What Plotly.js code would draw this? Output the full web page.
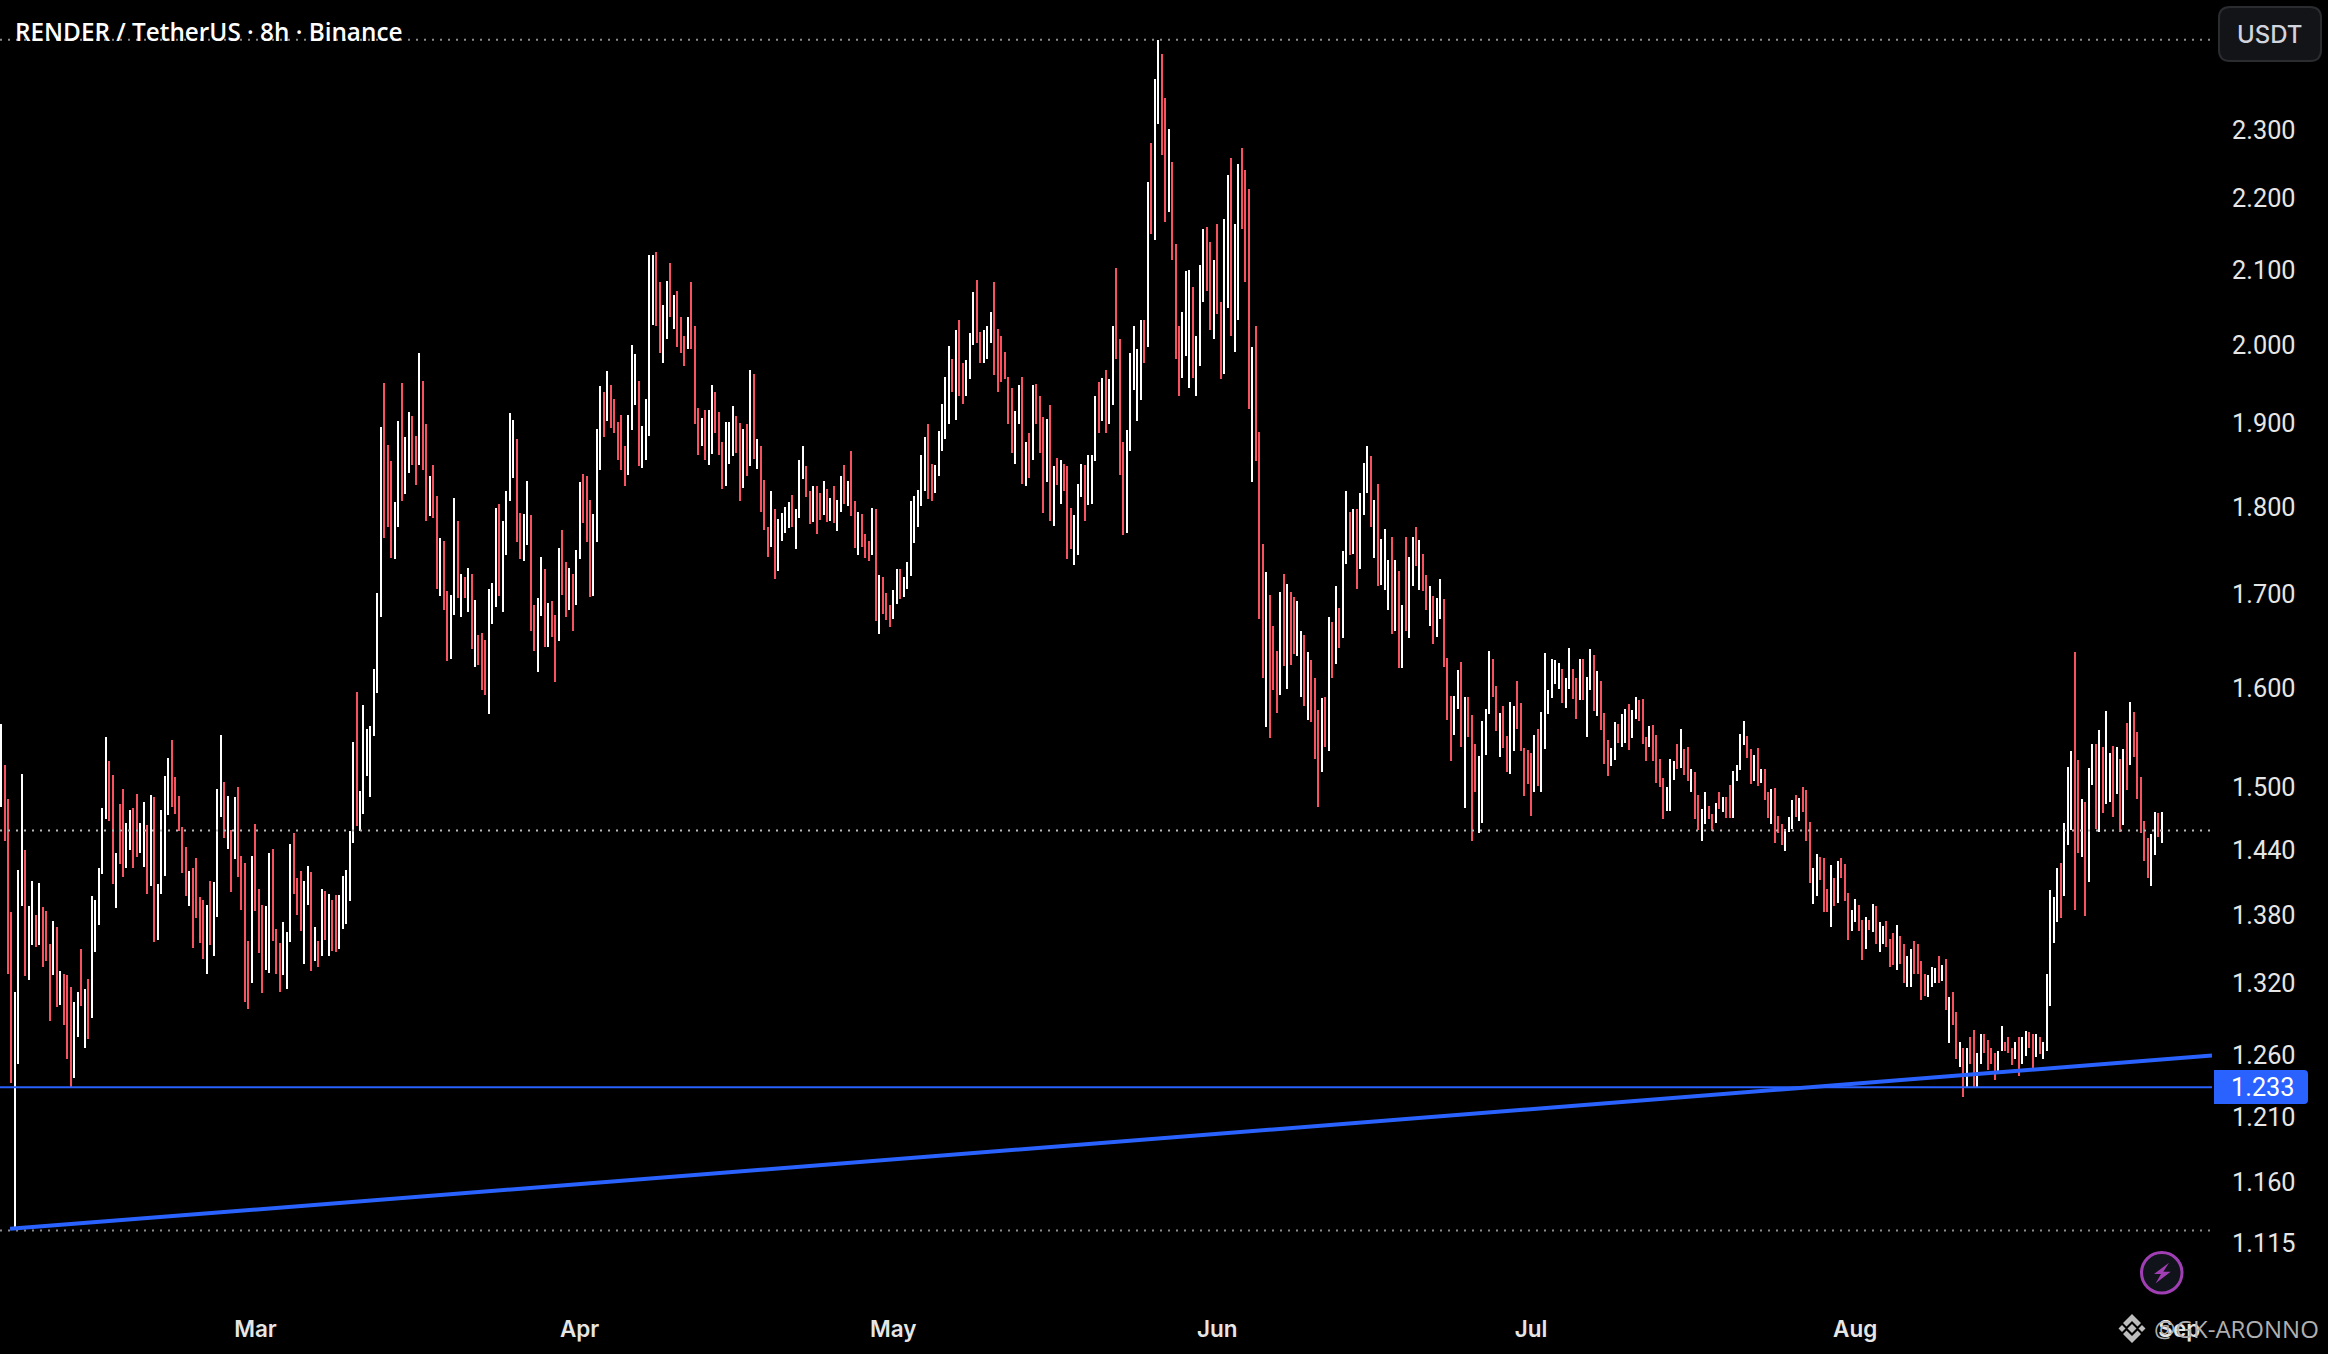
<!DOCTYPE html>
<html>
<head>
<meta charset="utf-8">
<script src="https://cdn.plot.ly/plotly-3.0.1.min.js"></script>
<style>html,body{margin:0;padding:0;background:#000;}#chart{width:2328px;height:1354px;}</style>
</head>
<body>
<div id="chart"></div>
<script>
const highs = [
1.563,1.522,1.488,1.383,1.313,1.421,1.513,1.440,1.388,1.411,
1.380,1.409,1.387,1.384,1.354,1.375,1.369,1.331,1.328,1.327,
1.317,1.304,1.313,1.350,1.315,1.324,1.397,1.394,1.423,1.480,
1.550,1.526,1.512,1.437,1.483,1.498,1.465,1.478,1.480,1.493,
1.465,1.485,1.463,1.492,1.490,1.408,1.478,1.511,1.529,1.547,
1.510,1.491,1.461,1.443,1.420,1.423,1.432,1.396,1.394,1.389,
1.411,1.410,1.498,1.552,1.505,1.491,1.459,1.490,1.500,1.434,
1.428,1.357,1.434,1.464,1.404,1.389,1.388,1.437,1.441,1.368,
1.355,1.374,1.365,1.445,1.456,1.414,1.420,1.411,1.425,1.419,
1.369,1.357,1.404,1.402,1.399,1.394,1.398,1.398,1.416,1.421,
1.458,1.545,1.596,1.496,1.582,1.558,1.561,1.620,1.702,1.896,
1.951,1.874,1.854,1.806,1.903,1.951,1.884,1.914,1.909,1.885,
1.990,1.953,1.900,1.836,1.850,1.813,1.764,1.760,1.704,1.700,
1.810,1.783,1.723,1.720,1.730,1.723,1.694,1.656,1.658,1.651,
1.706,1.713,1.798,1.803,1.783,1.818,1.913,1.905,1.881,1.793,
1.791,1.830,1.790,1.689,1.696,1.742,1.729,1.691,1.693,1.678,
1.752,1.773,1.737,1.730,1.723,1.750,1.829,1.839,1.836,1.808,
1.791,1.894,1.947,1.939,1.966,1.949,1.931,1.902,1.911,1.873,
1.911,2.000,1.988,1.954,1.897,1.931,2.121,2.120,2.124,2.084,
2.052,2.085,2.109,2.066,2.071,2.037,2.012,2.037,2.084,2.024,
1.919,1.907,1.917,1.917,1.949,1.940,1.914,1.878,1.902,1.902,
1.922,1.909,1.901,1.894,1.900,1.967,1.963,1.881,1.873,1.832,
1.777,1.818,1.797,1.786,1.793,1.800,1.805,1.814,1.797,1.856,
1.873,1.848,1.818,1.825,1.824,1.816,1.830,1.821,1.810,1.824,
1.808,1.836,1.849,1.831,1.867,1.807,1.794,1.791,1.768,1.760,
1.798,1.797,1.722,1.720,1.702,1.688,1.705,1.728,1.728,1.720,
1.737,1.807,1.813,1.820,1.862,1.883,1.900,1.851,1.849,1.891,
1.924,1.958,1.998,1.981,2.020,2.032,1.977,1.980,2.015,2.070,
2.086,2.017,2.019,2.024,2.043,2.084,2.021,2.011,1.991,1.959,
1.944,1.916,1.949,1.958,1.877,1.888,1.948,1.950,1.935,1.908,
1.906,1.923,1.848,1.858,1.855,1.851,1.848,1.799,1.790,1.827,
1.851,1.849,1.862,1.862,1.934,1.952,1.957,1.967,1.956,2.025,
2.103,2.007,1.877,1.892,1.989,2.025,1.994,2.032,2.032,2.223,
2.280,2.378,2.439,2.417,2.348,2.302,2.253,2.136,2.024,2.043,
2.099,2.100,2.077,2.011,2.106,2.156,2.159,2.138,2.114,2.164,
2.056,2.170,2.234,2.258,2.164,2.249,2.273,2.241,2.213,1.997,
2.025,1.890,1.757,1.725,1.700,1.666,1.639,1.703,1.723,1.712,
1.703,1.697,1.693,1.660,1.656,1.638,1.629,1.610,1.577,1.589,
1.590,1.675,1.670,1.710,1.685,1.749,1.819,1.794,1.797,1.797,
1.816,1.852,1.872,1.860,1.808,1.827,1.763,1.774,1.739,1.765,
1.739,1.726,1.689,1.765,1.742,1.765,1.776,1.762,1.745,1.722,
1.710,1.698,1.696,1.717,1.695,1.631,1.591,1.591,1.619,1.627,
1.590,1.590,1.572,1.543,1.531,1.566,1.578,1.639,1.630,1.602,
1.574,1.581,1.551,1.585,1.581,1.607,1.584,1.539,1.537,1.534,
1.552,1.558,1.575,1.637,1.598,1.630,1.629,1.626,1.620,1.610,
1.642,1.620,1.610,1.630,1.630,1.611,1.641,1.635,1.618,1.607,
1.574,1.547,1.539,1.565,1.563,1.573,1.578,1.583,1.577,1.590,
1.587,1.588,1.550,1.561,1.562,1.552,1.528,1.509,1.500,1.528,
1.526,1.543,1.558,1.538,1.540,1.518,1.515,1.492,1.479,1.495,
1.482,1.474,1.484,1.495,1.490,1.490,1.502,1.516,1.522,1.553,
1.566,1.551,1.538,1.532,1.539,1.518,1.518,1.495,1.498,1.499,
1.472,1.464,1.460,1.471,1.487,1.492,1.489,1.500,1.497,1.466,
1.423,1.436,1.433,1.432,1.404,1.426,1.414,1.429,1.432,1.427,
1.400,1.385,1.395,1.389,1.376,1.378,1.376,1.390,1.388,1.374,
1.370,1.375,1.359,1.364,1.371,1.361,1.354,1.344,1.350,1.357,
1.354,1.339,1.328,1.327,1.334,1.333,1.344,1.336,1.341,1.308,
1.313,1.296,1.271,1.266,1.266,1.275,1.281,1.262,1.277,1.277,
1.272,1.266,1.262,1.263,1.284,1.271,1.275,1.266,1.271,1.275,
1.275,1.280,1.279,1.277,1.277,1.275,1.271,1.328,1.403,1.396,
1.423,1.428,1.465,1.520,1.536,1.638,1.527,1.488,1.485,1.519,
1.543,1.543,1.557,1.540,1.576,1.534,1.541,1.540,1.528,1.538,
1.564,1.585,1.575,1.555,1.510,1.467,1.451,1.455,1.476,1.475,1.476
];
const lows = [
1.481,1.448,1.328,1.237,1.124,1.253,1.388,1.326,1.323,1.353,
1.352,1.353,1.334,1.339,1.288,1.327,1.300,1.302,1.285,1.257,
1.234,1.241,1.275,1.301,1.266,1.273,1.291,1.347,1.371,1.417,
1.469,1.467,1.408,1.386,1.427,1.415,1.423,1.440,1.423,1.433,
1.437,1.424,1.399,1.406,1.356,1.358,1.399,1.416,1.473,1.481,
1.474,1.458,1.418,1.397,1.388,1.351,1.377,1.355,1.341,1.328,
1.353,1.344,1.378,1.471,1.451,1.441,1.401,1.431,1.415,1.385,
1.304,1.298,1.320,1.384,1.346,1.312,1.332,1.329,1.357,1.328,
1.313,1.327,1.315,1.356,1.399,1.380,1.366,1.337,1.389,1.331,
1.339,1.334,1.344,1.358,1.344,1.348,1.347,1.350,1.368,1.372,
1.393,1.446,1.462,1.458,1.474,1.511,1.490,1.551,1.595,1.675,
1.764,1.776,1.741,1.740,1.776,1.807,1.815,1.840,1.849,1.826,
1.849,1.843,1.783,1.789,1.787,1.706,1.698,1.683,1.628,1.630,
1.678,1.696,1.675,1.696,1.681,1.641,1.622,1.624,1.598,1.592,
1.573,1.668,1.686,1.698,1.681,1.744,1.807,1.834,1.759,1.740,
1.738,1.756,1.660,1.639,1.616,1.677,1.643,1.643,1.654,1.606,
1.649,1.700,1.675,1.683,1.660,1.689,1.740,1.781,1.759,1.697,
1.698,1.759,1.843,1.884,1.903,1.895,1.888,1.856,1.844,1.824,
1.837,1.892,1.923,1.848,1.846,1.855,1.885,2.026,2.024,1.990,
1.976,2.007,2.036,2.021,1.997,1.990,1.972,1.994,1.994,1.900,
1.862,1.872,1.855,1.849,1.863,1.889,1.862,1.821,1.824,1.851,
1.860,1.864,1.807,1.822,1.836,1.848,1.857,1.845,1.794,1.773,
1.742,1.754,1.717,1.726,1.760,1.770,1.775,1.776,1.751,1.787,
1.833,1.812,1.780,1.782,1.768,1.785,1.790,1.782,1.783,1.781,
1.772,1.794,1.803,1.801,1.789,1.752,1.744,1.753,1.741,1.738,
1.744,1.671,1.657,1.679,1.672,1.664,1.673,1.690,1.695,1.697,
1.706,1.721,1.758,1.776,1.801,1.818,1.809,1.807,1.816,1.836,
1.866,1.881,1.900,1.939,1.905,1.934,1.924,1.935,1.956,2.000,
2.003,1.977,1.976,1.981,2.002,1.961,1.939,1.952,1.956,1.899,
1.864,1.851,1.899,1.827,1.824,1.834,1.855,1.899,1.864,1.793,
1.829,1.783,1.778,1.826,1.803,1.818,1.740,1.751,1.733,1.744,
1.812,1.783,1.802,1.803,1.854,1.888,1.903,1.889,1.899,1.923,
1.981,1.837,1.767,1.770,1.867,1.942,1.903,1.929,1.976,1.997,
2.150,2.141,2.309,2.263,2.167,2.181,2.114,1.981,1.934,1.957,
1.986,1.945,1.957,1.934,1.972,2.056,2.071,2.019,2.008,2.040,
1.956,1.963,2.049,2.011,1.991,2.032,2.156,2.084,1.918,1.829,
1.854,1.673,1.610,1.560,1.549,1.598,1.574,1.593,1.623,1.599,
1.624,1.636,1.633,1.590,1.581,1.567,1.565,1.528,1.481,1.515,
1.540,1.536,1.610,1.625,1.642,1.653,1.734,1.744,1.746,1.706,
1.728,1.790,1.816,1.777,1.741,1.709,1.711,1.705,1.683,1.657,
1.660,1.621,1.621,1.660,1.653,1.710,1.732,1.705,1.704,1.683,
1.666,1.646,1.654,1.673,1.622,1.567,1.526,1.552,1.578,1.540,
1.480,1.550,1.448,1.495,1.456,1.465,1.532,1.573,1.590,1.556,
1.530,1.539,1.515,1.513,1.536,1.558,1.536,1.491,1.503,1.472,
1.495,1.501,1.495,1.538,1.573,1.589,1.604,1.599,1.584,1.579,
1.599,1.588,1.568,1.587,1.587,1.550,1.598,1.576,1.571,1.557,
1.523,1.511,1.521,1.527,1.544,1.540,1.544,1.537,1.549,1.568,
1.566,1.543,1.526,1.540,1.526,1.504,1.500,1.469,1.477,1.477,
1.507,1.518,1.519,1.512,1.506,1.495,1.469,1.459,1.448,1.464,
1.469,1.458,1.465,1.479,1.476,1.470,1.470,1.470,1.506,1.517,
1.542,1.529,1.503,1.506,1.501,1.504,1.487,1.470,1.464,1.446,
1.456,1.444,1.439,1.457,1.460,1.471,1.467,1.476,1.448,1.409,
1.390,1.397,1.412,1.383,1.383,1.369,1.388,1.391,1.414,1.393,
1.358,1.366,1.374,1.366,1.340,1.350,1.367,1.365,1.354,1.347,
1.354,1.352,1.334,1.336,1.332,1.337,1.320,1.317,1.317,1.328,
1.328,1.306,1.309,1.308,1.317,1.320,1.320,1.322,1.297,1.270,
1.285,1.257,1.250,1.226,1.234,1.253,1.233,1.234,1.253,1.262,
1.248,1.253,1.240,1.247,1.263,1.263,1.262,1.252,1.257,1.243,
1.253,1.259,1.266,1.248,1.258,1.261,1.257,1.263,1.301,1.355,
1.374,1.377,1.397,1.444,1.459,1.385,1.437,1.433,1.379,1.410,
1.502,1.460,1.457,1.475,1.483,1.485,1.471,1.493,1.457,1.463,
1.497,1.522,1.530,1.488,1.456,1.429,1.414,1.406,1.435,1.452,1.446
];
// W = closed up (white), R = closed down (red)
const directions = (
"WRRRWWWRWW"+"RWRRRWRWRR"+"RWWRWRWWWW"+"WRRWRRWWRR"+"WWRWRWWWWR"+
"RRRRWRRRRW"+"RWWWRWRWRR"+"RRWRRRWWRR"+"RWWWRRRWWR"+"WRWRWRRWWW"+
"WWRWWWWWWW"+"RRRWWRWWRR"+"WRRWRRWRRW"+"WRWRWRWRRR"+"WWWRWWWWRR"+
"WWRRWWRWRR"+"WRRWRWWRRR"+"WWWRWRRRRR"+"WWWRWWWWRR"+"WWRWRRRWRR"+
"RWRWWRRRWW"+"WRRWRWRWRR"+"RWRWWWWRWW"+"WRRWRRWRWR"+"WWRWRRWRRR"+
"WRWRRRWWRW"+"WWWWWWRRWW"+"WWWRWRRWWW"+"RRWWWRRRRR"+"RWWRWRWRRR"+
"WRWRWRRRWW"+"WRWWWRWRWW"+"RRRWWWWWRW"+"RWWRRWRRRW"+"WWRWWWRRWR"+
"RWWRWWRRRW"+"RRRWRRRWRW"+"RRWWRWRRRW"+"RWRWRWWRWR"+"WWWRWRWWWR"+
"WRWRWWRWRR"+"WRWWRRRWWR"+"WRRRWWWWRR"+"WRRWWRRRRR"+"WRWWWWWWRW"+
"WRRWRWWRWR"+"RRWWRWWRWW"+"RRRWRRRRWW"+"WRWRRWRRWW"+"RRWRWRRWWW"+
"WRRWRWRRWR"+"RRWWWRWRRR"+"WWRRRWRWRR"+"RWWRRWRWRW"+"WRRRWRRWWR"+
"RRRWWWRWRW"+"RRWRWRRWWR"+"RRRWWRRRWR"+"WWRRWRWWWW"+"WRWWWRRWRW"+
"WRWRWWRWRW"+"RWRRRRRWWRW"
).split("");
const priceTicks = ["2.300","2.200","2.100","2.000","1.900","1.800","1.700","1.600","1.500","1.440","1.380","1.320","1.260","1.210","1.160","1.115"];
const monthTicks = ["2026-03-01","2026-04-01","2026-05-01","2026-06-01","2026-07-01","2026-08-01","2026-09-01"];
const monthLabels = ["Mar","Apr","May","Jun","Jul","Aug","Sep"];
const highestPrice = 2.439, markPrice = 1.458, lowestPrice = 1.124, supportPrice = 1.2338;
const trendBars = [2.6, 634.4];
const trendPrices = [1.1252, 1.2595];
const firstBar = Date.UTC(2026, 1, 4, 16);
const barMs = 8 * 3600 * 1000;

const W = 2328, H = 1354, plotW = 2212, plotH = 1300;
const WHITE = "#ffffff", RED = "#f7525f", BLUE = "#2962ff";
const barTime = i => new Date(firstBar + i * barMs).toISOString();
const xEdges = [barTime(-0.29), barTime(634.4)];
const px = x => x / plotW;
const py = y => 1 - y / plotH;
const poly = pts => pts.map((p, i) => (i ? "L" : "M") + px(p[0]) + "," + py(p[1])).join(" ") + " Z";
const rrect = (x0, y0, x1, y1, rl, rr) =>
  "M" + px(x0 + rl) + "," + py(y0) + " L" + px(x1 - rr) + "," + py(y0) +
  " Q" + px(x1) + "," + py(y0) + " " + px(x1) + "," + py(y0 + rr) +
  " L" + px(x1) + "," + py(y1 - rr) + " Q" + px(x1) + "," + py(y1) + " " + px(x1 - rr) + "," + py(y1) +
  " L" + px(x0 + rl) + "," + py(y1) + " Q" + px(x0) + "," + py(y1) + " " + px(x0) + "," + py(y1 - rl) +
  " L" + px(x0) + "," + py(y0 + rl) + " Q" + px(x0) + "," + py(y0) + " " + px(x0 + rl) + "," + py(y0) + " Z";

const times = highs.map((_, i) => barTime(i));
const opens = highs.map((h, i) => directions[i] === "W" ? lows[i] : h);
const closes = highs.map((h, i) => directions[i] === "W" ? h : lows[i]);

const levelLine = (p, color) => ({
  type: "scatter", mode: "lines", x: xEdges, y: [p, p], showlegend: false, hoverinfo: "skip",
  line: { color: color, width: 2, dash: "2px,6px" }
});

const traces = [
  {
    type: "ohlc", x: times, open: opens, high: highs, low: lows, close: closes, tickwidth: 0,
    increasing: { line: { color: WHITE, width: 2 } },
    decreasing: { line: { color: RED, width: 2 } },
    showlegend: false, hoverinfo: "skip"
  },
  levelLine(highestPrice, "#8c8c8c"),
  levelLine(markPrice, "#b8b8b8"),
  levelLine(lowestPrice, "#8c8c8c"),
  { type: "scatter", mode: "lines", x: xEdges, y: [supportPrice, supportPrice], showlegend: false, hoverinfo: "skip",
    line: { color: BLUE, width: 2 } },
  { type: "scatter", mode: "lines", x: trendBars.map(barTime), y: trendPrices, showlegend: false, hoverinfo: "skip",
    line: { color: BLUE, width: 4 } }
];

const shapes = [
  { type: "path", xref: "paper", yref: "paper", path: rrect(2219, 7, 2321, 61, 11, 11), fillcolor: "#131417", line: { color: "#2a2c30", width: 2 } },
  { type: "path", xref: "paper", yref: "paper", path: rrect(2214, 1070, 2308, 1104, 0, 4), fillcolor: BLUE, line: { width: 0 } },
  { type: "circle", xref: "paper", yref: "paper", x0: px(2141.5), x1: px(2182), y0: py(1293), y1: py(1252.5), fillcolor: "#10131a", line: { color: "#a03fb4", width: 3 } },
  { type: "path", xref: "paper", yref: "paper", path: poly([[2169, 1262.7], [2154, 1274], [2161, 1274], [2155.7, 1283.3], [2170.7, 1271.7], [2163.3, 1271.7]]), fillcolor: "#a03fb4", line: { width: 0 } },
  { type: "path", xref: "paper", yref: "paper", path: poly([[2132, 1314], [2141, 1323], [2137.5, 1326.5], [2132, 1321], [2126.5, 1326.5], [2123, 1323]]), fillcolor: "#bdbdbd", line: { width: 0 } },
  { type: "path", xref: "paper", yref: "paper", path: poly([[2132, 1343], [2141, 1334], [2137.5, 1330.5], [2132, 1336], [2126.5, 1330.5], [2123, 1334]]), fillcolor: "#bdbdbd", line: { width: 0 } },
  { type: "path", xref: "paper", yref: "paper", path: poly([[2132, 1324], [2136.5, 1328.5], [2132, 1333], [2127.5, 1328.5]]), fillcolor: "#bdbdbd", line: { width: 0 } },
  { type: "path", xref: "paper", yref: "paper", path: poly([[2122, 1325], [2125.5, 1328.5], [2122, 1332], [2118.5, 1328.5]]), fillcolor: "#bdbdbd", line: { width: 0 } },
  { type: "path", xref: "paper", yref: "paper", path: poly([[2142, 1325], [2145.5, 1328.5], [2142, 1332], [2138.5, 1328.5]]), fillcolor: "#bdbdbd", line: { width: 0 } }
];

const annotations = [
  { xref: "paper", yref: "paper", x: px(2270), y: py(34), text: "USDT", showarrow: false, xanchor: "center", yanchor: "middle",
    font: { family: "Inter", size: 24, color: "#d1d4dc", weight: 500 } },
  { xref: "paper", yref: "y", x: px(2232), y: Math.log10(supportPrice), text: "1.233", showarrow: false, xanchor: "left", yanchor: "middle",
    xshift: -3, font: { family: "Roboto", size: 25.3, color: "#ffffff" } },
  { xref: "paper", yref: "paper", x: px(2152), y: py(1328), text: "@GK-ARONNO", showarrow: false, xanchor: "left", yanchor: "middle",
    font: { family: "Open Sans", size: 24, color: "#b0b0b0" } }
];

const layout = {
  width: W, height: H,
  paper_bgcolor: "#000000", plot_bgcolor: "#000000",
  margin: { l: 0, r: W - plotW, t: 0, b: H - plotH, pad: 0 },
  showlegend: false, hovermode: false,
  title: { text: "RENDER / TetherUS · 8h · Binance", x: 15 / W, xanchor: "left", xref: "container", y: 1 - 32 / H, yanchor: "middle", yref: "container",
    font: { family: "Open Sans", size: 24.3, color: "#ffffff", weight: 600 } },
  xaxis: {
    type: "date", range: xEdges, tickmode: "array", tickvals: monthTicks, ticktext: monthLabels,
    showgrid: false, zeroline: false, showline: false, automargin: false,
    ticks: "outside", ticklen: 9, tickcolor: "rgba(0,0,0,0)",
    rangeslider: { visible: false },
    tickfont: { family: "Inter", size: 22.5, color: "#e6e6e6", weight: 600 }
  },
  yaxis: {
    type: "log", side: "right", range: [Math.log10(1.0743), Math.log10(2.503)],
    tickmode: "array", tickvals: priceTicks.map(Number), ticktext: priceTicks,
    showgrid: false, zeroline: false, showline: false, automargin: false,
    ticks: "outside", ticklen: 14, tickcolor: "rgba(0,0,0,0)",
    tickfont: { family: "Roboto", size: 25.3, color: "#e6e6e6" }
  },
  shapes: shapes, annotations: annotations
};

Plotly.newPlot("chart", traces, layout, { staticPlot: true, displayModeBar: false }).then(() => {
  document.querySelectorAll("#chart .ohlc path").forEach(p => { p.style.shapeRendering = "crispEdges"; });
});
</script>
</body>
</html>
